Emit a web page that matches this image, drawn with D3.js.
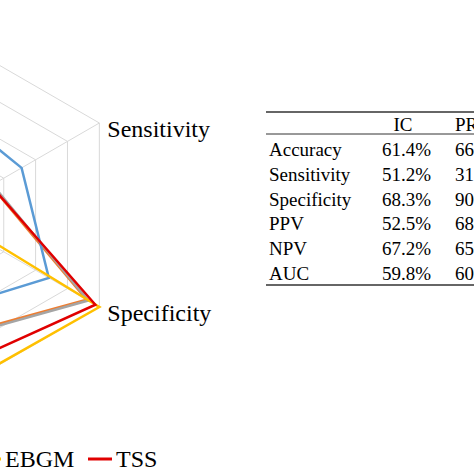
<!DOCTYPE html><html><head><meta charset="utf-8"><script src="https://cdn.jsdelivr.net/npm/d3@7"></script>
<style>body{margin:0;background:#fff}text{font-family:"Liberation Serif","Times New Roman",serif}</style></head><body>
<svg id="c" width="474" height="474"></svg>
<script>
const axes=["Accuracy","Sensitivity","Specificity","PPV","NPV","AUC"];
const seriesNames=["IC","PRR","ROR","EBGM","TSS"];
const colors=["#5b9bd5","#ed7d31","#a5a5a5","#ffc000","#e00000"];
const IC=[61.4,51.2,68.3,52.5,67.2,59.8];
const PRR=[66.0,32.0,92.0,68.0,65.0,60.0];
const ROR=[66.0,33.0,93.0,69.0,65.0,60.0];
const EBGM=[55.0,3.0,100.0,99.0,50.0,52.0];
const TSS=[70.0,32.0,97.5,87.0,66.0,64.0];
const values=[IC,PRR,ROR,EBGM,TSS];
const ticks=[20,40,60,80,100];
const tableRows=["Accuracy","Sensitivity","Specificity","PPV","NPV","AUC"];
const tableIC=["61.4%","51.2%","68.3%","52.5%","67.2%","59.8%"];
const tablePRR=["66.0%","31.0%","90.0%","68.0%","65.0%","60.0%"];

const svg=d3.select("#c");
const cx=-60,cy=215,R=184;
const r=d3.scaleLinear().domain([0,100]).range([0,R]);
const ang=d3.scaleLinear().domain([0,6]).range([-Math.PI/2,1.5*Math.PI]);
const pt=(i,v)=>[cx+r(v)*Math.cos(ang(i)),cy+r(v)*Math.sin(ang(i))];
const g=svg.append("g");
ticks.forEach(t=>{g.append("path").attr("d",d3.line()(d3.range(7).map(i=>pt(i%6,t)))).attr("fill","none").attr("stroke","#d9d9d9").attr("stroke-width",1);});
axes.forEach((a,i)=>{g.append("line").attr("x1",cx).attr("y1",cy).attr("x2",pt(i,100)[0]).attr("y2",pt(i,100)[1]).attr("stroke","#d9d9d9");});
const order=[1,2,0,3,4];
order.forEach(s=>{g.append("path").attr("d",d3.line()(d3.range(7).map(i=>pt(i%6,values[s][i%6])))).attr("fill","none").attr("stroke",colors[s]).attr("stroke-width",2.5).attr("stroke-linejoin","miter");});
axes.forEach((a,i)=>{const p=pt(i,100);const c=Math.cos(ang(i));
 g.append("text").attr("x",p[0]+(c>0.1?8:c<-0.1?-8:0)).attr("y",p[1]+(i===0?-8:i===3?24:14)).attr("text-anchor",c>0.1?"start":c<-0.1?"end":"middle").attr("font-size",24).attr("fill","#000").text(a);});
// legend
const lx=[-300,-215,-125,5,116];
seriesNames.forEach((n,i)=>{const x=lx[i];
 svg.append("line").attr("x1",x-28).attr("x2",x-4).attr("y1",459).attr("y2",459).attr("stroke",colors[i]).attr("stroke-width",3);
 svg.append("text").attr("x",x).attr("y",467).attr("font-size",24).text(n);});
// table
const tg=svg.append("g").attr("font-size",19);
tg.append("line").attr("x1",266).attr("x2",474).attr("y1",112).attr("y2",112).attr("stroke","#333").attr("stroke-width",1.5);
tg.append("line").attr("x1",266).attr("x2",474).attr("y1",134).attr("y2",134).attr("stroke","#333").attr("stroke-width",1);
tg.append("line").attr("x1",266).attr("x2",474).attr("y1",285).attr("y2",285).attr("stroke","#333").attr("stroke-width",1.5);
tg.append("text").attr("x",403).attr("y",131).attr("text-anchor","middle").text("IC");
tg.append("text").attr("x",455).attr("y",131).text("PRR");
const ry=d3.scalePoint().domain(tableRows).range([156,280]);
tableRows.forEach((rw,i)=>{tg.append("text").attr("x",269).attr("y",ry(rw)).text(rw);
 tg.append("text").attr("x",382).attr("y",ry(rw)).text(tableIC[i]);
 tg.append("text").attr("x",455).attr("y",ry(rw)).text(tablePRR[i]);});
</script></body></html>
